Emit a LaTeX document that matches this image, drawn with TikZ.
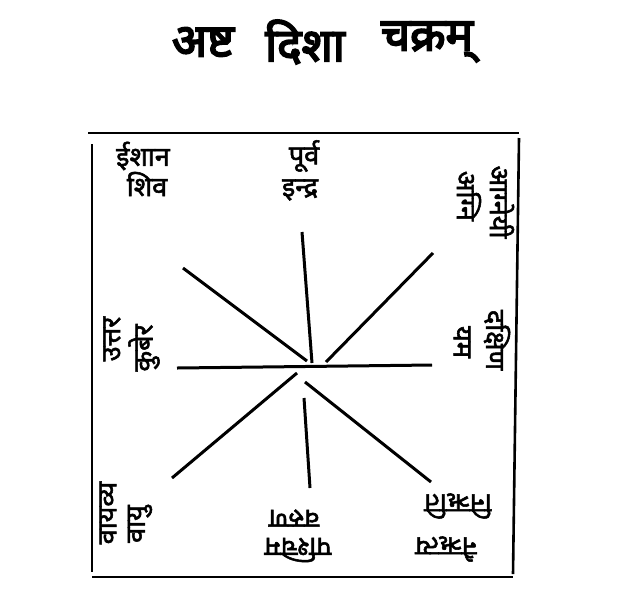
\documentclass[tikz,border=0pt]{standalone}
\usepackage{fontspec}
\newfontfamily\deva[Script=Devanagari,FakeBold=2]{Noto Sans}
\newfontfamily\devat[Script=Devanagari,FakeBold=4]{Noto Sans}
\begin{document}
\begin{tikzpicture}[x=1pt,y=-1pt,
  lbl/.style={font=\deva\fontsize{27}{29}\selectfont, inner sep=0pt},
  ttl/.style={font=\devat\fontsize{46}{48}\selectfont, inner sep=0pt},
  ray/.style={line width=3pt},
  frame/.style={line width=2.6pt}]
\useasboundingbox (0,0) rectangle (617,600);
% title
\node[ttl] (t1) at (203,42) {अष्ट};
\node[ttl] (t2) at (305,42) {दिशा};
\node[ttl] (t3) at (427,42) {चक्रम्};
% frame corners
\coordinate (tl) at (88,133);
\coordinate (tr) at (519,133);
\coordinate (rt) at (519,138);
\coordinate (rb) at (513,574);
\coordinate (bl) at (92,577);
\coordinate (br) at (513,577);
\coordinate (lt) at (92,144);
\coordinate (lb) at (92,572);
\draw[frame] (tl) -- (tr);
\draw[frame] (rt) -- (rb);
\draw[frame] (bl) -- (br);
\draw[frame] (lt) -- (lb);
% rays
\coordinate (n1) at (302,232); \coordinate (n2) at (312,363);
\coordinate (w1) at (177,368); \coordinate (e1) at (432,365);
\coordinate (nw1) at (183,268); \coordinate (nw2) at (307,361);
\coordinate (ne1) at (433,253); \coordinate (ne2) at (326,362);
\coordinate (sw1) at (297,373); \coordinate (sw2) at (172,478);
\coordinate (se1) at (305,382); \coordinate (se2) at (431,482);
\coordinate (s1) at (304,398); \coordinate (s2) at (310,488);
\draw[ray] (n1) -- (n2);
\draw[ray] (w1) -- (e1);
\draw[ray] (nw1) -- (nw2);
\draw[ray] (ne1) -- (ne2);
\draw[ray] (sw1) -- (sw2);
\draw[ray] (se1) -- (se2);
\draw[ray] (s1) -- (s2);
% labels
\node[lbl] (ish) at (143,156) {ईशान};
\node[lbl] (shiv) at (147,184) {शिव};
\node[lbl] (purv) at (304,156) {पूर्व};
\node[lbl] (indr) at (300,190) {इन्द्र};
\node[lbl,rotate=-90] (agn1) at (502,202) {आग्नेयी};
\node[lbl,rotate=-90] (agn2) at (469,196) {अग्नि};
\node[lbl,rotate=-90] (dak) at (497,340) {दक्षिण};
\node[lbl,rotate=-90] (yam) at (462,342) {यम};
\node[lbl,rotate=90] (utt) at (112,339) {उत्तर};
\node[lbl,rotate=90] (kub) at (144,348) {कुबेर};
\node[lbl,rotate=90] (vyv) at (108,513) {वायव्य};
\node[lbl,rotate=90] (vayu) at (140,524) {वायु};
\node[lbl,rotate=180] (pas) at (298,550) {पश्चिम};
\node[lbl,rotate=180] (var) at (294,518) {वरुण};
\node[lbl,rotate=180] (nai) at (446,549) {नैऋत्य};
\node[lbl,rotate=180] (nir) at (458,506) {निऋति};
\end{tikzpicture}
\end{document}
